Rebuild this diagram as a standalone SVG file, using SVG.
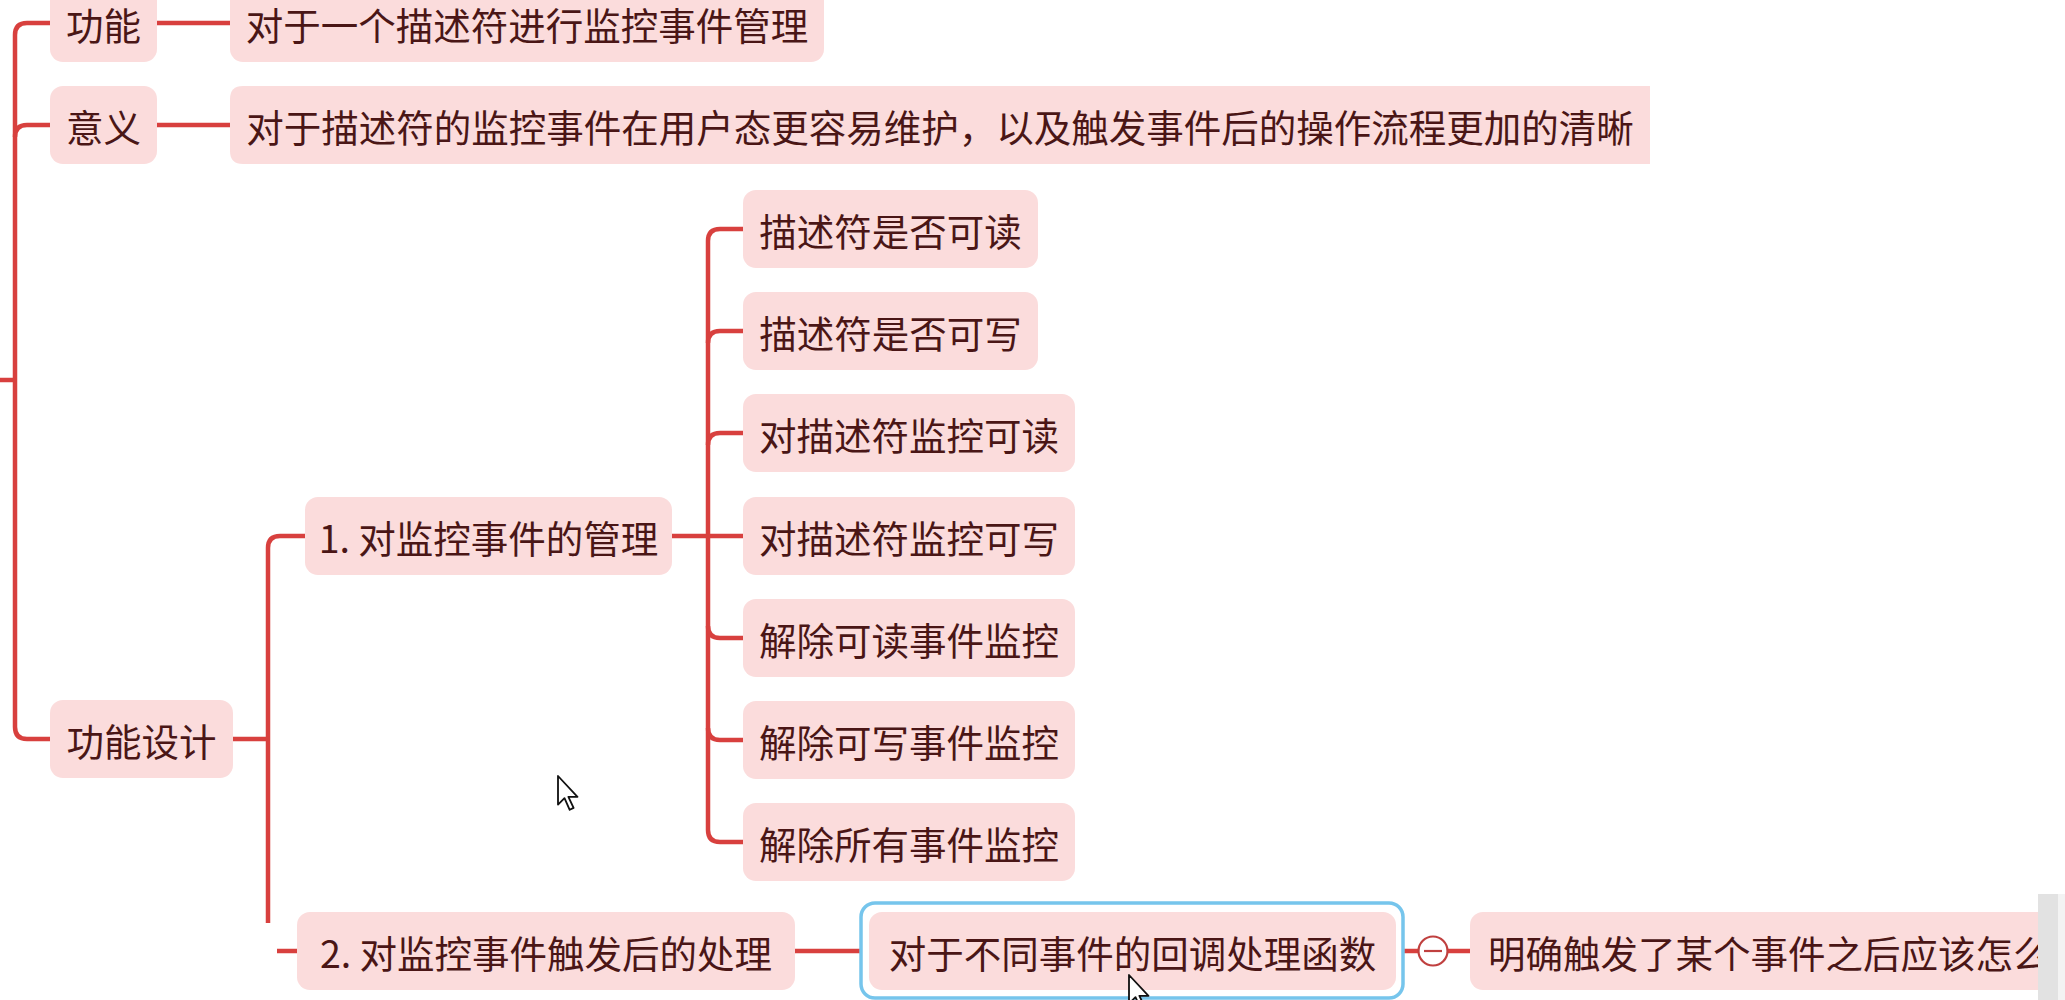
<svg xmlns="http://www.w3.org/2000/svg" width="2065" height="1000" viewBox="0 0 2065 1000">
  <style>
    .box { fill: #fbdcdc; }
    .t { font-family: "Noto Sans CJK SC", "Liberation Sans", sans-serif; font-size: 37.5px; fill: #4a1616; dominant-baseline: central; }
    .m { text-anchor: middle; }
    .ln { fill: none; stroke: #d8403e; stroke-width: 4.5; stroke-linecap: butt; }
    .cur { fill: #ffffff; stroke: #111111; stroke-width: 1.4; stroke-linejoin: round; }
  </style>
  <defs>
    <clipPath id="clipRight"><rect x="0" y="0" width="2038" height="1000"/></clipPath>
  </defs>
  <rect x="0" y="0" width="2065" height="1000" fill="#ffffff"/>

  <g id="connectors">
    <path class="ln" d="M0,380 H15"/>
    <path class="ln" d="M50,23 H27 Q15,23 15,35 V727 Q15,739 27,739 H50"/>
    <path class="ln" d="M15,137 Q15,125 27,125 H50"/>
    <path class="ln" d="M157,23 H230"/>
    <path class="ln" d="M157,125 H230"/>
    <path class="ln" d="M233,739 H268"/>
    <path class="ln" d="M305,536 H280 Q268,536 268,548 V923"/>
    <path class="ln" d="M277,951 H297"/>
    <path class="ln" d="M672,536 H743"/>
    <path class="ln" d="M743,229 H720 Q708,229 708,241 V830 Q708,842 720,842 H743"/>
    <path class="ln" d="M708,343 Q708,331 720,331 H743"/>
    <path class="ln" d="M708,445 Q708,433 720,433 H743"/>
    <path class="ln" d="M708,626 Q708,638 720,638 H743"/>
    <path class="ln" d="M708,728 Q708,740 720,740 H743"/>
    <path class="ln" d="M795,951 H861"/>
    <path class="ln" d="M1403,951 H1418"/>
    <path class="ln" d="M1448,951 H1470"/>
  </g>

  <g id="node-gongneng">
    <rect class="box" x="50" y="-16" width="107" height="78" rx="13"/>
    <text class="t m" x="103.5" y="23">功能</text>
  </g>
  <g id="node-gongneng-desc">
    <rect class="box" x="230" y="-16" width="594" height="78" rx="13"/>
    <text class="t m" x="527" y="23">对于一个描述符进行监控事件管理</text>
  </g>
  <g id="node-yiyi">
    <rect class="box" x="50" y="86" width="107" height="78" rx="13"/>
    <text class="t m" x="103.5" y="125">意义</text>
  </g>
  <g id="node-yiyi-desc">
    <path class="box" d="M243,86 H1650 V164 H243 Q230,164 230,151 V99 Q230,86 243,86 Z"/>
    <text class="t m" x="940" y="125">对于描述符的监控事件在用户态更容易维护，以及触发事件后的操作流程更加的清晰</text>
  </g>
  <g id="node-design">
    <rect class="box" x="50" y="700" width="183" height="78" rx="13"/>
    <text class="t m" x="141.5" y="739">功能设计</text>
  </g>
  <g id="node-manage">
    <rect class="box" x="305" y="497" width="367" height="78" rx="13"/>
    <text class="t m" x="488.5" y="536">1. 对监控事件的管理</text>
  </g>
  <g id="node-c1">
    <rect class="box" x="743" y="190" width="295" height="78" rx="13"/>
    <text class="t m" x="890.5" y="229">描述符是否可读</text>
  </g>
  <g id="node-c2">
    <rect class="box" x="743" y="292" width="295" height="78" rx="13"/>
    <text class="t m" x="890.5" y="331">描述符是否可写</text>
  </g>
  <g id="node-c3">
    <rect class="box" x="743" y="394" width="332" height="78" rx="13"/>
    <text class="t m" x="909" y="433">对描述符监控可读</text>
  </g>
  <g id="node-c4">
    <rect class="box" x="743" y="497" width="332" height="78" rx="13"/>
    <text class="t m" x="909" y="536">对描述符监控可写</text>
  </g>
  <g id="node-c5">
    <rect class="box" x="743" y="599" width="332" height="78" rx="13"/>
    <text class="t m" x="909" y="638">解除可读事件监控</text>
  </g>
  <g id="node-c6">
    <rect class="box" x="743" y="701" width="332" height="78" rx="13"/>
    <text class="t m" x="909" y="740">解除可写事件监控</text>
  </g>
  <g id="node-c7">
    <rect class="box" x="743" y="803" width="332" height="78" rx="13"/>
    <text class="t m" x="909" y="842">解除所有事件监控</text>
  </g>
  <g id="node-handle">
    <rect class="box" x="297" y="912" width="498" height="78" rx="13"/>
    <text class="t m" x="546" y="951">2. 对监控事件触发后的处理</text>
  </g>
  <g id="node-callback">
    <rect x="861" y="903" width="542" height="95" rx="14" fill="none" stroke="#76c5ec" stroke-width="3.5"/>
    <rect class="box" x="869" y="912" width="527" height="78" rx="13"/>
    <text class="t m" x="1132.5" y="951">对于不同事件的回调处理函数</text>
  </g>
  <g id="collapse-toggle">
    <circle cx="1433" cy="951" r="14.5" fill="#ffffff" stroke="#c0403f" stroke-width="2.2"/>
    <line x1="1424" y1="951" x2="1442" y2="951" stroke="#c0403f" stroke-width="2.2"/>
  </g>
  <g id="node-explain" clip-path="url(#clipRight)">
    <rect class="box" x="1470" y="912" width="600" height="78" rx="13"/>
    <text class="t" x="1488" y="951">明确触发了某个事件之后应该怎么</text>
  </g>

  <g id="scrollbar">
    <rect x="2038" y="894" width="20" height="106" fill="#e2e2e2"/>
    <rect x="2058" y="894" width="7" height="106" fill="#f3f3f3"/>
  </g>

  <g id="cursors">
    <path class="cur" transform="translate(558,776) scale(1.3)" d="M0,0 V22 L5,17 L9,26 L12,24.5 L8,16 H15 Z"/>
    <path class="cur" transform="translate(1129,975) scale(1.3)" d="M0,0 V22 L5,17 L9,26 L12,24.5 L8,16 H15 Z"/>
  </g>
</svg>
